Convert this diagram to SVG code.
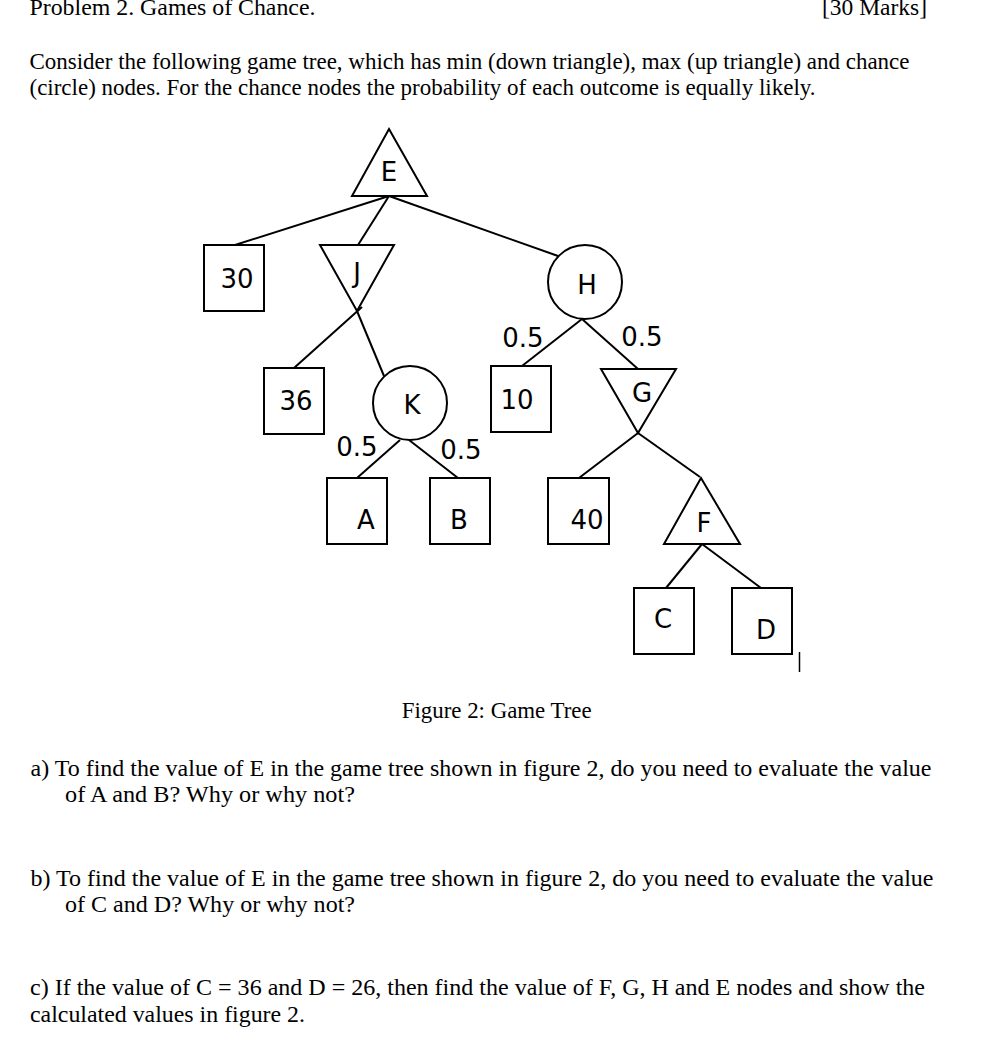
<svg xmlns="http://www.w3.org/2000/svg" width="1006" height="1050" viewBox="0 0 1006 1050">
<style>
.doc{font-family:"Liberation Serif","Times New Roman",serif;font-size:23.5px;fill:#000}
.lbl{font-family:"DejaVu Sans","Liberation Sans",sans-serif;font-size:26px;fill:#000;text-anchor:middle}
.shape{fill:#fff;stroke:#000;stroke-width:2}
.edge{stroke:#000;stroke-width:2;fill:none}
</style>
<rect width="1006" height="1050" fill="#fff"/>
<g id="text">
<text class="doc" x="29.5" y="15" textLength="286" lengthAdjust="spacingAndGlyphs">Problem 2. Games of Chance.</text>
<text class="doc" x="822" y="15" textLength="105" lengthAdjust="spacingAndGlyphs">[30 Marks]</text>
<text class="doc" x="29.5" y="69" textLength="880" lengthAdjust="spacingAndGlyphs">Consider the following game tree, which has min (down triangle), max (up triangle) and chance</text>
<text class="doc" x="29.5" y="95" textLength="786" lengthAdjust="spacingAndGlyphs">(circle) nodes. For the chance nodes the probability of each outcome is equally likely.</text>
<text class="doc" x="401.7" y="718" textLength="190" lengthAdjust="spacingAndGlyphs">Figure 2: Game Tree</text>
<text class="doc" x="30.5" y="776" textLength="901" lengthAdjust="spacingAndGlyphs">a) To find the value of E in the game tree shown in figure 2, do you need to evaluate the value</text>
<text class="doc" x="65" y="802" textLength="290" lengthAdjust="spacingAndGlyphs">of A and B? Why or why not?</text>
<text class="doc" x="30.5" y="886" textLength="903" lengthAdjust="spacingAndGlyphs">b) To find the value of E in the game tree shown in figure 2, do you need to evaluate the value</text>
<text class="doc" x="65" y="912" textLength="290" lengthAdjust="spacingAndGlyphs">of C and D? Why or why not?</text>
<text class="doc" x="30" y="995" textLength="895" lengthAdjust="spacingAndGlyphs">c) If the value of C = 36 and D = 26, then find the value of F, G, H and E nodes and show the</text>
<text class="doc" x="30" y="1022" textLength="275" lengthAdjust="spacingAndGlyphs">calculated values in figure 2.</text>
</g>
<g id="connectors">
<line class="edge" x1="389" y1="196" x2="235" y2="245"/>
<line class="edge" x1="389" y1="196" x2="358" y2="245"/>
<line class="edge" x1="389" y1="196" x2="558" y2="256"/>
<line class="edge" x1="362" y1="307" x2="294" y2="368"/>
<line class="edge" x1="357" y1="311" x2="384" y2="376"/>
<line class="edge" x1="582" y1="319" x2="522" y2="366"/>
<line class="edge" x1="582" y1="319" x2="638" y2="369"/>
<line class="edge" x1="400" y1="440" x2="357" y2="478"/>
<line class="edge" x1="409" y1="440" x2="458" y2="478"/>
<line class="edge" x1="638" y1="433" x2="579" y2="478"/>
<line class="edge" x1="638" y1="433" x2="700" y2="477"/>
<line class="edge" x1="702" y1="544" x2="666" y2="588"/>
<line class="edge" x1="702" y1="544" x2="761" y2="588"/>
</g>
<g id="node-E"><polygon class="shape" points="389,129 427,196 352,196"/><text class="lbl" x="389" y="181">E</text></g>
<g id="node-30"><rect class="shape" x="204" y="245" width="60" height="66"/><text class="lbl" x="237" y="288">30</text></g>
<g id="node-J"><polygon class="shape" points="320,245 394,245 357,311" style="fill:none"/><text class="lbl" x="357" y="282">J</text></g>
<g id="node-H"><circle class="shape" cx="585" cy="282" r="37"/><text class="lbl" x="587" y="294">H</text></g>
<g id="node-36"><rect class="shape" x="264" y="368" width="60" height="66"/><text class="lbl" x="296" y="410">36</text></g>
<g id="node-K"><circle class="shape" cx="410" cy="403" r="37"/><text class="lbl" x="412" y="414">K</text></g>
<g id="node-10"><rect class="shape" x="491" y="366" width="60" height="66"/><text class="lbl" x="517" y="409">10</text></g>
<g id="node-G"><polygon class="shape" points="601,369 676,369 638,433" style="fill:none"/><text class="lbl" x="642" y="402">G</text></g>
<g id="node-A"><rect class="shape" x="327" y="478" width="60" height="66"/><text class="lbl" x="366" y="529">A</text></g>
<g id="node-B"><rect class="shape" x="430" y="478" width="60" height="66"/><text class="lbl" x="459" y="529">B</text></g>
<g id="node-40"><rect class="shape" x="548" y="478" width="61" height="66"/><text class="lbl" x="587" y="529">40</text></g>
<g id="node-F"><polygon class="shape" points="701,478 740,544 664,544"/><text class="lbl" x="704" y="532">F</text></g>
<g id="node-C"><rect class="shape" x="634" y="588" width="60" height="66"/><text class="lbl" x="663" y="628">C</text></g>
<g id="node-D"><rect class="shape" x="732" y="588" width="60" height="66"/><text class="lbl" x="766" y="639">D</text></g>
<g id="edge-labels">
<text class="lbl" x="523" y="347">0.5</text>
<text class="lbl" x="642" y="346">0.5</text>
<text class="lbl" x="357" y="456">0.5</text>
<text class="lbl" x="461" y="459">0.5</text>
</g>
<line x1="799.5" y1="652" x2="799.5" y2="672" stroke="#000" stroke-width="1.5"/>
</svg>
